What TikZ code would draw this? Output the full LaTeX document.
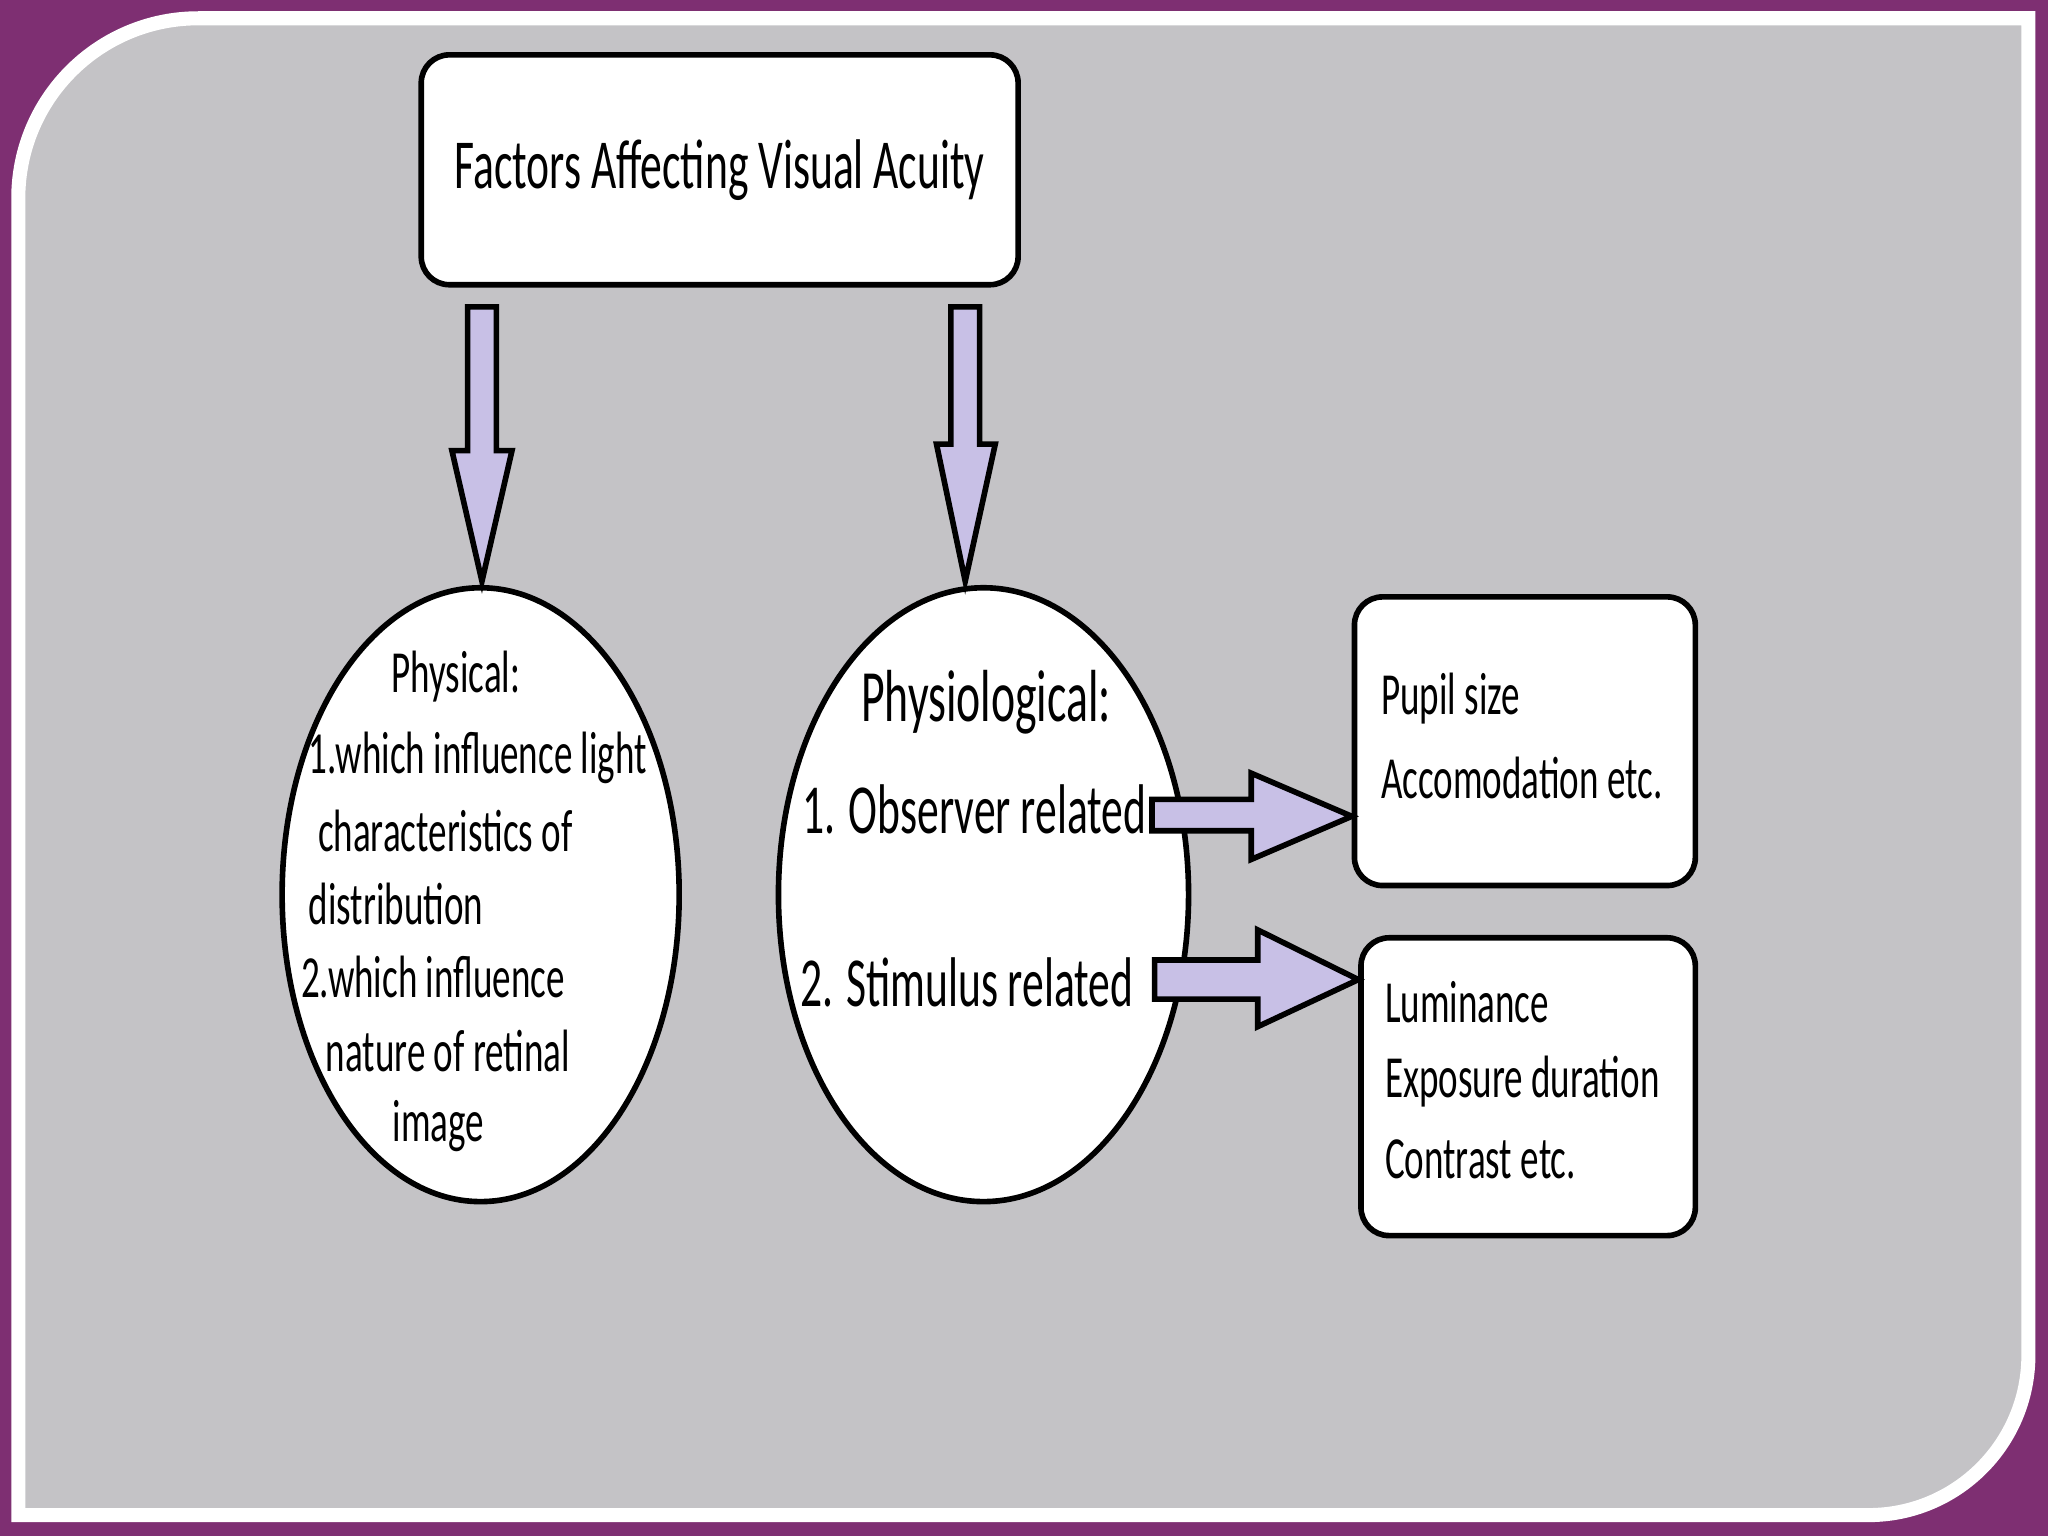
\documentclass[tikz,border=0pt]{standalone}
\usepackage{fontspec}
\setmainfont{Carlito}[FakeStretch=0.62]
\usepackage{tikz}
\definecolor{slideback}{HTML}{7E2F72}
\definecolor{panelgray}{HTML}{C4C3C6}
\definecolor{arrowfill}{HTML}{C8C0E6}
\tikzset{
  box/.style={draw, line width=1.6pt, fill=white, rounded corners=8pt},
  blockarrow/.style={draw, line width=1.6pt, fill=arrowfill, line join=miter},
  txt/.style={font=\fontsize{17}{20}\selectfont, anchor=west, inner sep=0pt},
  bigtxt/.style={font=\fontsize{20}{24}\selectfont, anchor=west, inner sep=0pt},
}
\begin{document}
\begin{tikzpicture}[x=0.01306cm, y=-0.01306cm]
            \useasboundingbox (0, 0) rectangle (1568, 1176);
            \fill[slideback] (0, 0) rectangle (1568, 1176);
            \path[fill=panelgray, draw=white, line width=4pt]
                (14, 1160) [rounded corners=1.8cm] -- (14, 14) [sharp corners] -- (1553, 14)
                [rounded corners=1.6cm] -- (1553, 1160) [sharp corners] -- cycle;
            % title
            \node[box, minimum width=457*0.01306cm, minimum height=176*0.01306cm] (title) at (551, 130)
                {\fontsize{20}{24}\selectfont Factors Affecting Visual Acuity};
            % ellipses
            \draw[line width=1.6pt, fill=white] (368, 685) ellipse (152 and 235);
            \draw[line width=1.6pt, fill=white] (753, 685) ellipse (157 and 235);
            \node (phys) at (349, 518) {\fontsize{17}{20}\selectfont Physical:};
            \node[txt] (p1) at (236, 580) {1.which influence light};
            \node[txt] (p2) at (243, 636) {characteristics of};
            \node[txt] (p3) at (236, 692) {distribution};
            \node[txt] (p4) at (230, 748) {2.which influence};
            \node[txt] (p5) at (249, 805) {nature of retinal};
            \node[txt] (p6) at (300, 862) {image};
            \node (physio) at (755, 538) {\fontsize{21}{24}\selectfont Physiological:};
            \node[bigtxt] (obs) at (614, 620) {1. Observer related};
            \node[bigtxt] (stim) at (612, 752) {2. Stimulus related};
            % boxes
            \draw[box] (1037, 457) rectangle (1298, 678);
            \draw[box] (1042, 718) rectangle (1298, 946);
            \node[txt] (pupil) at (1057, 535) {Pupil size};
            \node[txt] (acc) at (1057, 596) {Accomodation etc.};
            \node[txt] (lum) at (1060, 767) {Luminance};
            \node[txt] (exp) at (1060, 828) {Exposure duration};
            \node[txt] (con) at (1060, 888) {Contrast etc.};
            % arrows
            \draw[blockarrow] (358, 235) -- (380, 235) -- (380, 345) -- (392, 345) -- (369, 445)
                -- (346, 345) -- (358, 345) -- cycle;
            \draw[blockarrow] (728, 235) -- (750, 235) -- (750, 340) -- (762, 340) -- (739, 445)
                -- (717, 340) -- (728, 340) -- cycle;
            \draw[blockarrow] (882, 612) -- (958, 612) -- (958, 592) -- (1035, 625) -- (958, 658)
                -- (958, 636) -- (882, 636) -- cycle;
            \draw[blockarrow] (884, 735) -- (963, 735) -- (963, 712) -- (1040, 750) -- (963, 786)
                -- (963, 765) -- (884, 765) -- cycle;
\end{tikzpicture}
\end{document}
